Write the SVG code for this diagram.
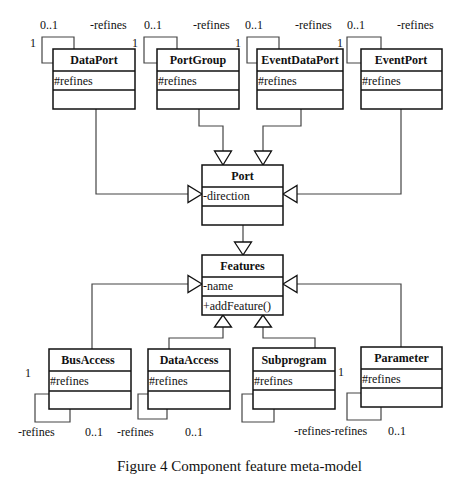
<svg xmlns="http://www.w3.org/2000/svg" width="474" height="488" viewBox="0 0 474 488">
<style>
.box{fill:#fff;stroke:#111;stroke-width:1.5}
.sep{stroke:#111;stroke-width:1.3}
.ln{fill:none;stroke:#444;stroke-width:1.2}
.tri{fill:#fff;stroke:#111;stroke-width:1.3}
.h{font-family:"Liberation Serif",serif;font-size:12px;font-weight:bold;text-anchor:middle;fill:#111}
.a{font-family:"Liberation Serif",serif;font-size:12px;fill:#111}
.s{font-family:"Liberation Serif",serif;font-size:10px;fill:#111}
.c{font-family:"Liberation Serif",serif;font-size:15px;fill:#111}
</style>
<rect width="474" height="488" fill="#fff"/>
<g id="connectors">
<polyline class="ln" points="96,109 96,194 188,194"/>
<polyline class="ln" points="199,109 199,126 223,126 223,151"/>
<polyline class="ln" points="301,109 301,126 263,126 263,151"/>
<polyline class="ln" points="401,109 401,194 297,194"/>
<polyline class="ln" points="243,225 243,242"/>
<polyline class="ln" points="92,349 92,284 188,284"/>
<polyline class="ln" points="401,347 401,284 297,284"/>
<polyline class="ln" points="223,327 223,338 169,338 169,349"/>
<polyline class="ln" points="263,327 263,338 315,338 315,348"/>
<polygon class="tri" points="223,165 214.5,151 231.5,151"/>
<polygon class="tri" points="263,165 254.5,151 271.5,151"/>
<polygon class="tri" points="202,194 188,185.5 188,202.5"/>
<polygon class="tri" points="283,194 297,185.5 297,202.5"/>
<polygon class="tri" points="243,255 234.5,242 251.5,242"/>
<polygon class="tri" points="202,284 188,275.5 188,292.5"/>
<polygon class="tri" points="283,284 297,275.5 297,292.5"/>
<polygon class="tri" points="223,315 214.5,327 231.5,327"/>
<polygon class="tri" points="263,315 254.5,327 271.5,327"/>
<polyline class="ln" points="74,49 74,37 42,37 42,63 53,63"/>
<polyline class="ln" points="177,49 177,37 144,37 144,63 157,63"/>
<polyline class="ln" points="279,49 279,37 247,37 247,63 257,63"/>
<polyline class="ln" points="381,49 381,37 347,37 347,63 361,63"/>
<polyline class="ln" points="49,394 35,394 35,422 70,422 70,409"/>
<polyline class="ln" points="148,394 138,394 138,419 167,419 167,409"/>
<polyline class="ln" points="253,394 242,394 242,422 274,422 274,409"/>
<polyline class="ln" points="361,393 347,393 347,420 381,420 381,407"/>
</g>
<g id="labels">
<text class="a" x="40" y="29">0..1</text>
<text class="a" x="90" y="29">-refines</text>
<text class="a" x="30" y="47">1</text>
<text class="a" x="132" y="47">1</text>
<text class="a" x="144" y="29">0..1</text>
<text class="a" x="193" y="29">-refines</text>
<text class="a" x="235" y="47">1</text>
<text class="a" x="245" y="29">0..1</text>
<text class="a" x="295" y="29">-refines</text>
<text class="a" x="337" y="47">1</text>
<text class="a" x="347" y="29">0..1</text>
<text class="a" x="397" y="29">-refines</text>
<text class="a" x="25" y="377">1</text>
<text class="a" x="124" y="362">1</text>
<text class="a" x="18" y="436">-refines</text>
<text class="a" x="85" y="436">0..1</text>
<text class="a" x="117" y="436">-refines</text>
<text class="a" x="185" y="436">0..1</text>
<text class="s" x="270" y="373">1</text>
<text class="a" x="294" y="394">0..1</text>
<text class="a" x="338" y="376">1</text>
<text class="a" x="294" y="435">-refines-refines</text>
<text class="a" x="388" y="435">0..1</text>
</g>
<g id="DataPort">
<rect class="box" x="53" y="49" width="82" height="60"/>
<line class="sep" x1="53" y1="71" x2="135" y2="71"/><line class="sep" x1="53" y1="90" x2="135" y2="90"/>
<text class="h" x="94" y="64">DataPort</text><text class="a" x="54" y="85">#refines</text>
</g>
<g id="PortGroup">
<rect class="box" x="157" y="49" width="82" height="60"/>
<line class="sep" x1="157" y1="71" x2="239" y2="71"/><line class="sep" x1="157" y1="90" x2="239" y2="90"/>
<text class="h" x="198" y="64">PortGroup</text><text class="a" x="158" y="85">#refines</text>
</g>
<g id="EventDataPort">
<rect class="box" x="257" y="49" width="86" height="60"/>
<line class="sep" x1="257" y1="71" x2="343" y2="71"/><line class="sep" x1="257" y1="90" x2="343" y2="90"/>
<text class="h" x="300" y="64">EventDataPort</text><text class="a" x="258" y="85">#refines</text>
</g>
<g id="EventPort">
<rect class="box" x="361" y="49" width="81" height="60"/>
<line class="sep" x1="361" y1="71" x2="442" y2="71"/><line class="sep" x1="361" y1="90" x2="442" y2="90"/>
<text class="h" x="401" y="64">EventPort</text><text class="a" x="362" y="85">#refines</text>
</g>
<g id="Port">
<rect class="box" x="202" y="165" width="81" height="60"/>
<line class="sep" x1="202" y1="187" x2="283" y2="187"/><line class="sep" x1="202" y1="206" x2="283" y2="206"/>
<text class="h" x="242.5" y="180">Port</text><text class="a" x="203" y="200">-direction</text>
</g>
<g id="Features">
<rect class="box" x="202" y="255" width="81" height="60"/>
<line class="sep" x1="202" y1="277" x2="283" y2="277"/><line class="sep" x1="202" y1="296" x2="283" y2="296"/>
<text class="h" x="242.5" y="270">Features</text><text class="a" x="203" y="290">-name</text><text class="a" x="203" y="310">+addFeature()</text>
</g>
<g id="BusAccess">
<rect class="box" x="49" y="349" width="82" height="60"/>
<line class="sep" x1="49" y1="371" x2="131" y2="371"/><line class="sep" x1="49" y1="391" x2="131" y2="391"/>
<text class="h" x="88" y="364">BusAccess</text><text class="a" x="50" y="385">#refines</text>
</g>
<g id="DataAccess">
<rect class="box" x="148" y="349" width="82" height="60"/>
<line class="sep" x1="148" y1="371" x2="230" y2="371"/><line class="sep" x1="148" y1="391" x2="230" y2="391"/>
<text class="h" x="189" y="364">DataAccess</text><text class="a" x="149" y="385">#refines</text>
</g>
<g id="Subprogram">
<rect class="box" x="253" y="348" width="82" height="61"/>
<line class="sep" x1="253" y1="371" x2="335" y2="371"/><line class="sep" x1="253" y1="390" x2="335" y2="390"/>
<text class="h" x="294" y="364">Subprogram</text><text class="a" x="254" y="385">#refines</text>
</g>
<g id="Parameter">
<rect class="box" x="361" y="347" width="81" height="60"/>
<line class="sep" x1="361" y1="369" x2="442" y2="369"/><line class="sep" x1="361" y1="388" x2="442" y2="388"/>
<text class="h" x="401.5" y="362">Parameter</text><text class="a" x="362" y="383">#refines</text>
</g>
<text class="c" x="117" y="471">Figure 4 Component feature meta-model</text>
</svg>
